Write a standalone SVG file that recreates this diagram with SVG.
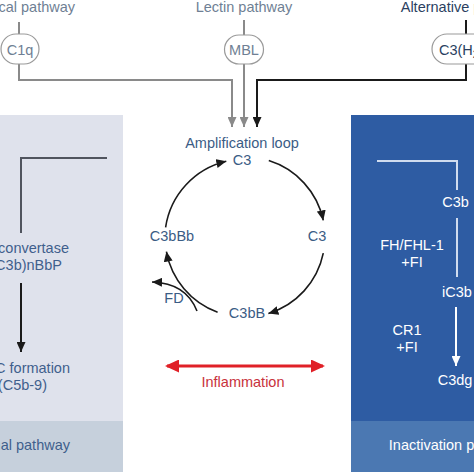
<svg xmlns="http://www.w3.org/2000/svg" width="474" height="474" viewBox="0 0 474 474">
<defs>
<style>
text{font-family:"Liberation Sans",Arial,sans-serif;font-size:14.5px}
.top{fill:#6f7f94;text-anchor:middle}
.blue{fill:#3b5c85;text-anchor:middle}
.lp{fill:#3f5f8c}
.rp{fill:#ffffff;text-anchor:middle}
.pill{fill:#ffffff;stroke:#9a9a9a;stroke-width:1.2}
.gray{fill:none;stroke:#8a8a8a;stroke-width:2}
.blk{fill:none;stroke:#1a1a1a;stroke-width:2}
.arc{fill:none;stroke:#1a1a1a;stroke-width:1.6}
</style>
<marker id="ahB" markerUnits="userSpaceOnUse" markerWidth="10" markerHeight="9" refX="10" refY="4.5" orient="auto"><path d="M0,0 L10,4.5 L0,9 z" fill="#1a1a1a"/></marker>
<marker id="ahG" markerUnits="userSpaceOnUse" markerWidth="10" markerHeight="9" refX="10" refY="4.5" orient="auto"><path d="M0,0 L10,4.5 L0,9 z" fill="#8a8a8a"/></marker>
<marker id="ahW" markerUnits="userSpaceOnUse" markerWidth="10" markerHeight="9" refX="10" refY="4.5" orient="auto"><path d="M0,0 L10,4.5 L0,9 z" fill="#ffffff"/></marker>
<marker id="ahR" markerUnits="userSpaceOnUse" markerWidth="14" markerHeight="13" refX="12" refY="6.5" orient="auto-start-reverse"><path d="M0,0 L14,6.5 L0,13 z" fill="#e02027"/></marker>
</defs>
<rect width="474" height="474" fill="#ffffff"/>

<g id="left-panel">
<rect x="0" y="115" width="123" height="306" fill="#dfe2ec"/>
<rect x="0" y="421" width="123" height="51" fill="#c6d0dc"/>
<polyline points="107,158 21,158 21,233" fill="none" stroke="#50545e" stroke-width="2"/>
<text class="lp" x="69" y="253" text-anchor="end">C5 convertase</text>
<text class="lp" x="62" y="270" text-anchor="end">(C3b)nBbP</text>
<line x1="21" y1="283" x2="21" y2="352" class="blk" marker-end="url(#ahB)"/>
<text class="lp" x="70" y="373" text-anchor="end">MAC formation</text>
<text class="lp" x="47" y="390" text-anchor="end">(C5b-9)</text>
<text class="lp" x="70" y="450" text-anchor="end" font-size="15.5">Terminal pathway</text>
</g>

<g id="right-panel">
<rect x="351" y="115" width="123" height="306" fill="#2e5ca3"/>
<rect x="351" y="421" width="123" height="51" fill="#4b78b2"/>
<polyline points="377,161 457,161 457,190" fill="none" stroke="#d0dcef" stroke-width="2"/>
<text class="rp" x="455.5" y="207">C3b</text>
<line x1="457" y1="218" x2="457" y2="277" stroke="#d0dcef" stroke-width="2"/>
<text class="rp" x="412" y="250">FH/FHL-1</text>
<text class="rp" x="412" y="267">+FI</text>
<text class="rp" x="457" y="297">iC3b</text>
<line x1="456" y1="307" x2="456" y2="366" stroke="#ffffff" stroke-width="2" marker-end="url(#ahW)"/>
<text class="rp" x="407" y="335">CR1</text>
<text class="rp" x="407" y="352">+FI</text>
<text class="rp" x="455" y="385">C3dg</text>
<text class="rp" x="454.5" y="450" font-size="15.5">Inactivation pathway</text>
</g>

<g id="connectors">
<polyline class="gray" points="19,22 19,80 232,80 232,127" marker-end="url(#ahG)"/>
<line class="gray" x1="244" y1="20" x2="244" y2="127" marker-end="url(#ahG)"/>
<polyline class="blk" points="466,20 466,80 257,80 257,127" marker-end="url(#ahB)"/>
</g>

<g id="classical">
<text class="top" x="17" y="12">Classical pathway</text>
<rect class="pill" x="1" y="34" width="38" height="30" rx="15"/>
<text x="20" y="55" text-anchor="middle" fill="#6f7f94">C1q</text>
</g>
<g id="lectin">
<text class="top" x="244" y="12">Lectin pathway</text>
<rect class="pill" x="224.5" y="35" width="39" height="29" rx="14.5"/>
<text x="244" y="55" text-anchor="middle" fill="#6f7f94">MBL</text>
</g>
<g id="alternative">
<text x="464" y="12" text-anchor="middle" fill="#2b3f5f">Alternative pathway</text>
<rect class="pill" x="432" y="34" width="74" height="30" rx="15"/>
<text x="439" y="55" fill="#2b3f5f">C3(H<tspan font-size="10" dy="3">2</tspan><tspan dy="-3">O)</tspan></text>
</g>

<g id="amplification-loop">
<text class="blue" x="242" y="148">Amplification loop</text>
<text class="blue" x="242" y="165">C3</text>
<text class="blue" x="317" y="241">C3</text>
<text class="blue" x="172" y="241">C3bBb</text>
<text class="blue" x="247" y="318">C3bB</text>
<text class="blue" x="174" y="303">FD</text>
<path class="arc" d="M268.8,160.6 A80,80 0 0 1 323.3,220.4" marker-end="url(#ahB)"/>
<path class="arc" d="M323.3,253.2 A80,80 0 0 1 268.4,313.5" marker-end="url(#ahB)"/>
<path class="arc" d="M217.6,312.2 A80,80 0 0 1 166.4,251.6" marker-end="url(#ahB)"/>
<path class="arc" d="M165.6,227.3 A80,80 0 0 1 226.3,161.2" marker-end="url(#ahB)"/>
<path class="arc" d="M197,311 Q186,283 152,282" marker-end="url(#ahB)"/>
</g>

<g id="inflammation">
<line x1="167" y1="366" x2="323" y2="366" stroke="#e02027" stroke-width="3" marker-start="url(#ahR)" marker-end="url(#ahR)"/>
<text x="243" y="387" text-anchor="middle" fill="#c8323c">Inflammation</text>
</g>
</svg>
